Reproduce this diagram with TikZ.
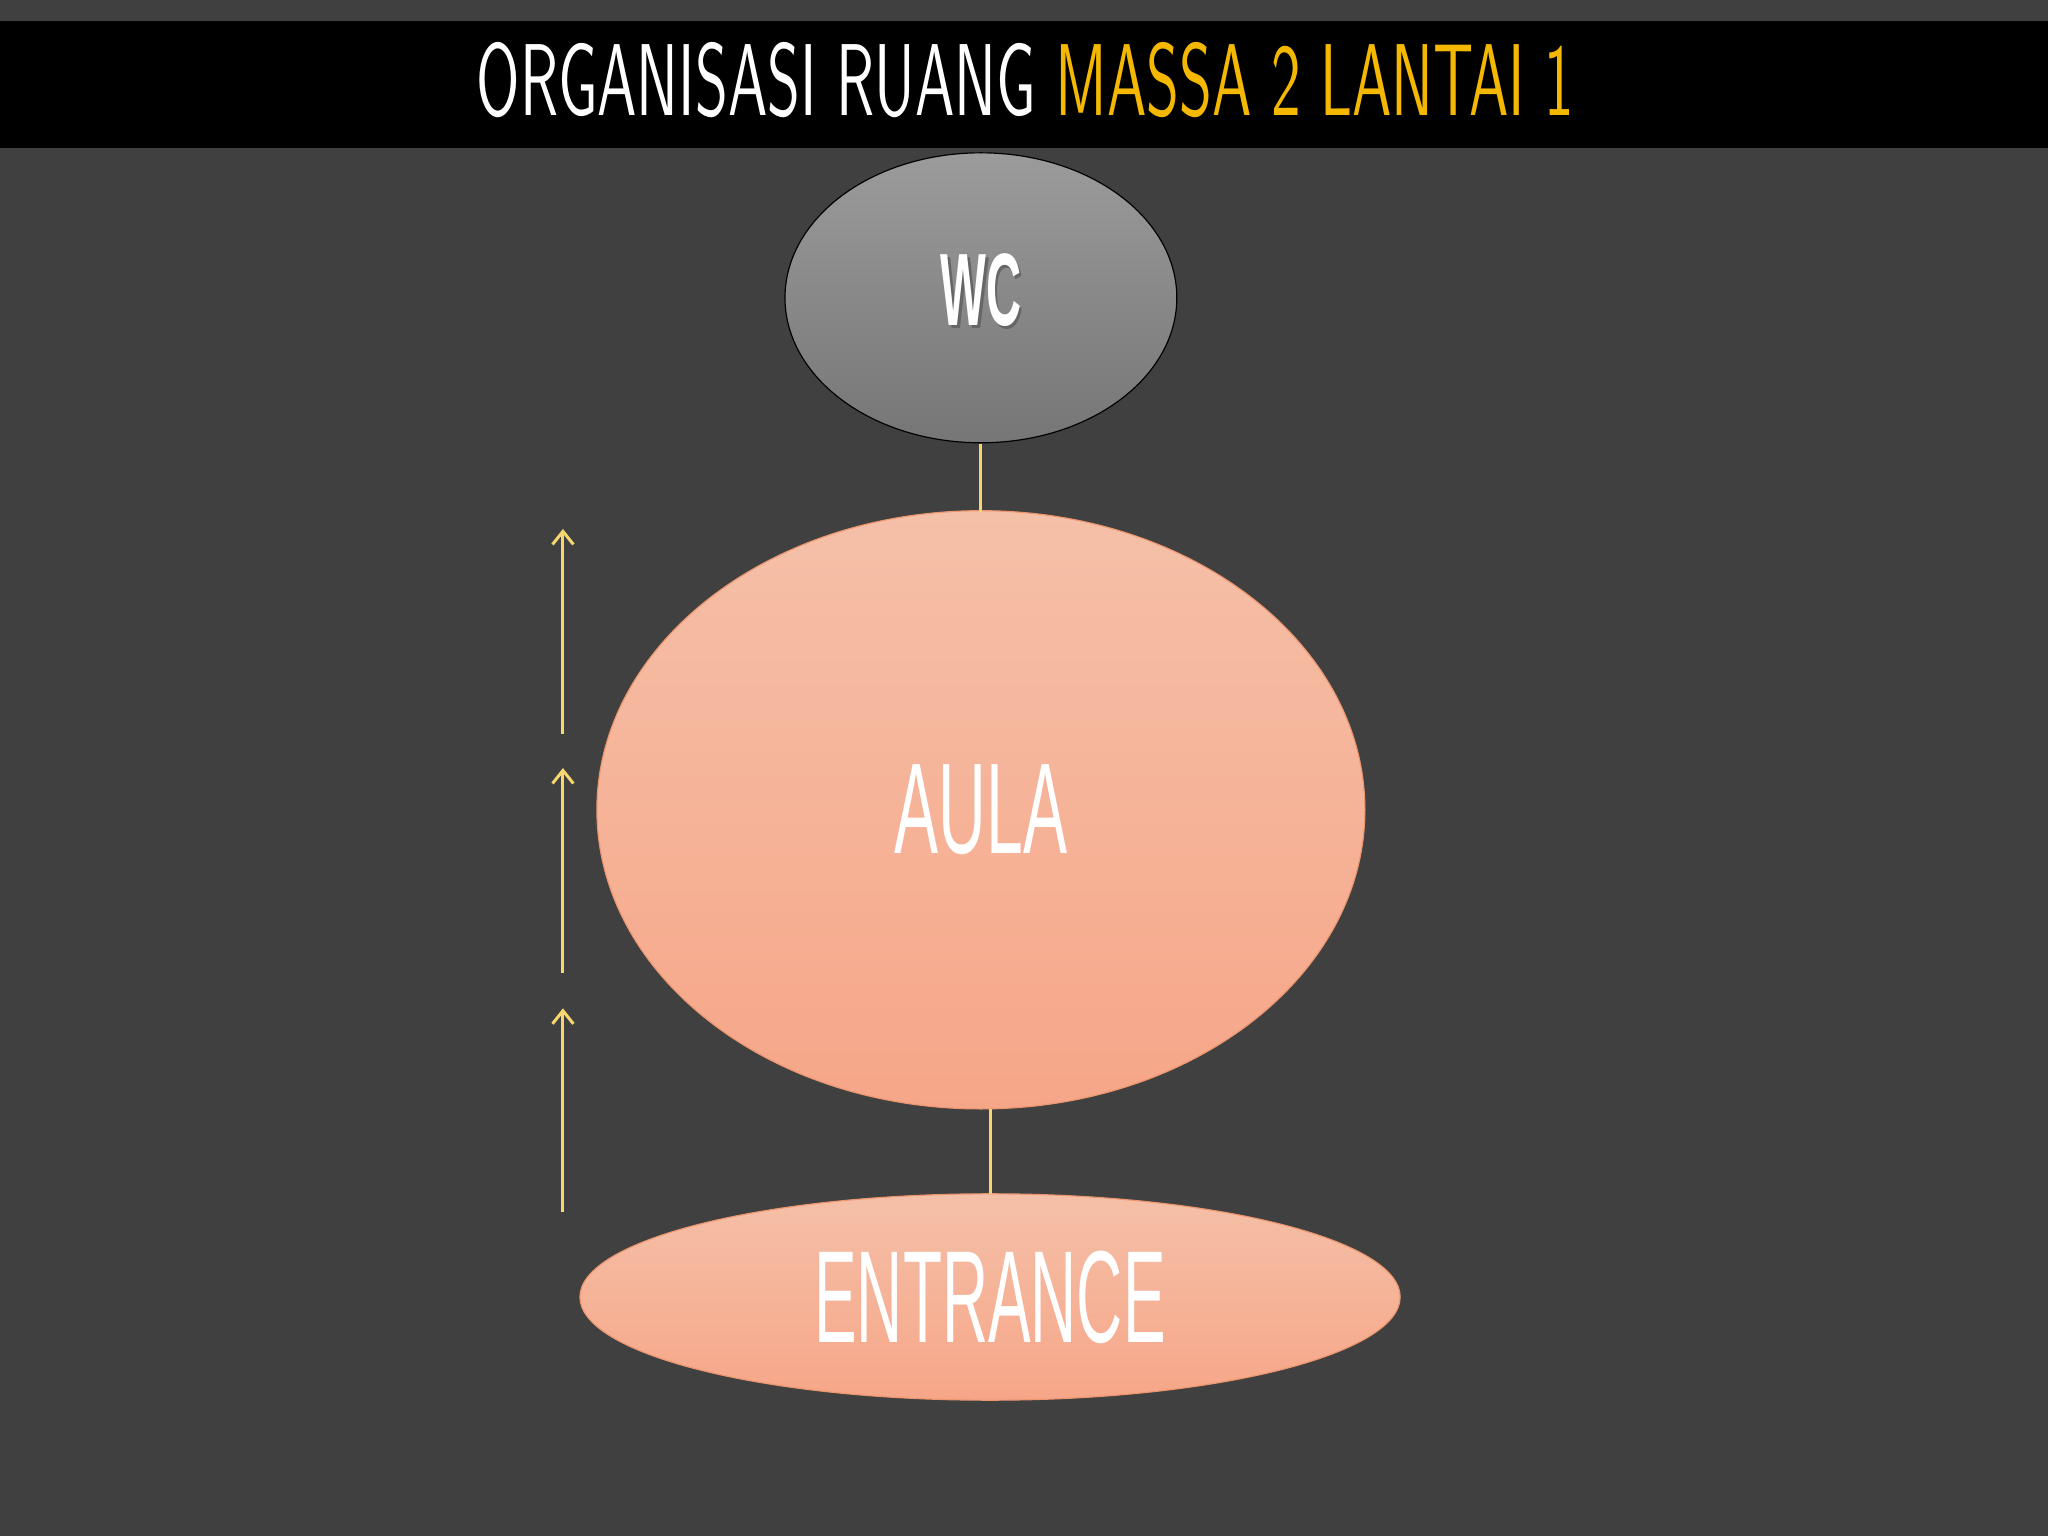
\documentclass[tikz,border=0pt]{standalone}
\usepackage{fontspec}
\usepackage{graphicx}
\setmainfont{Liberation Sans}
\usetikzlibrary{shapes.geometric,arrows.meta}
\definecolor{bg}{RGB}{64,64,64}
\definecolor{ylw}{RGB}{245,215,110}
\definecolor{ttl}{RGB}{245,184,0}
\definecolor{wctop}{RGB}{155,155,155}
\definecolor{wcbot}{RGB}{118,118,118}
\definecolor{pktop}{RGB}{245,192,168}
\definecolor{pkbot}{RGB}{246,166,136}
\definecolor{pkline}{RGB}{235,150,110}
\tikzset{
 room/.style={ellipse,inner sep=0pt,text=white,draw=#1,line width=0.9pt},
 link/.style={draw=ylw,line width=2.3pt},
 flow/.style={draw=ylw,line width=2.3pt,-{Straight Barb[length=10pt,width=16pt,line width=2.3pt]}}
}
\begin{document}
\begin{tikzpicture}[x=1pt,y=-1pt]
\useasboundingbox (0,0) rectangle (1568,1176);
\fill[bg] (0,0) rectangle (1568,1176);
\fill[black] (0,16) rectangle (1568,113);
\node[inner sep=0pt,text=white] (title) at (785,61) {\resizebox{840pt}{56pt}{\textsf{ORGANISASI RUANG \textcolor{ttl}{MASSA 2 LANTAI 1}}}};
\node[room=black,minimum width=300pt,minimum height=222pt,top color=wctop,bottom color=wcbot] (wc) at (751,228) {};
\node[text=black!60,inner sep=0pt] at (753,224) {\resizebox{62pt}{55pt}{\bfseries WC}};
\node[text=white,inner sep=0pt] (wct) at (751,222) {\resizebox{62pt}{55pt}{\bfseries WC}};
\node[room=pkline,minimum width=588pt,minimum height=458pt,top color=pktop,bottom color=pkbot] (aula) at (751,620) {\resizebox{132pt}{68pt}{AULA}};
\node[room=pkline,minimum width=628pt,minimum height=158pt,top color=pktop,bottom color=pkbot] (ent) at (758,993) {\resizebox{269pt}{70pt}{ENTRANCE}};
\coordinate (c1) at (751,340); \coordinate (c2) at (751,392);
\draw[link] (c1) -- (c2);
\coordinate (c3) at (758,849); \coordinate (c4) at (758,914);
\draw[link] (c3) -- (c4);
\coordinate (a1s) at (431,562); \coordinate (a1e) at (431,405);
\coordinate (a2s) at (431,745); \coordinate (a2e) at (431,588);
\coordinate (a3s) at (431,928); \coordinate (a3e) at (431,772);
\draw[flow] (a1s) -- (a1e);
\draw[flow] (a2s) -- (a2e);
\draw[flow] (a3s) -- (a3e);
\end{tikzpicture}
\end{document}
